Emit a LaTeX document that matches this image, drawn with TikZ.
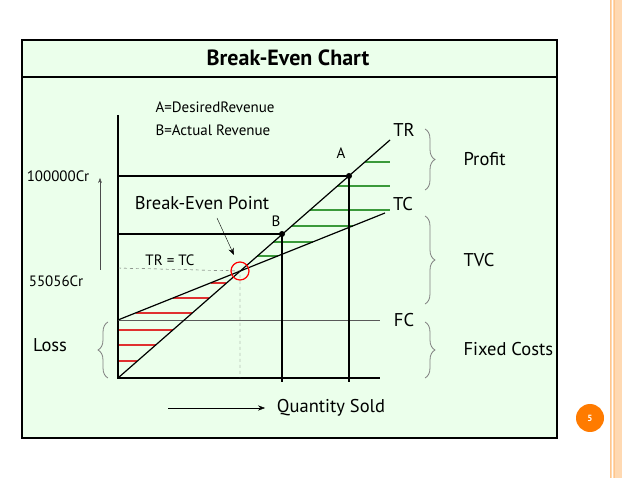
\documentclass[tikz,border=0pt]{standalone}
\usepackage{fontspec}
\setmainfont{PT Sans}
\usetikzlibrary{decorations.pathreplacing,arrows.meta}
\definecolor{hg}{HTML}{3A9A3A}
\definecolor{hr}{HTML}{E03030}
\begin{document}
\begin{tikzpicture}[x=1pt,y=-1pt,
  lbl/.style={font=\fontsize{18.5}{18.5}\selectfont},
  sml/.style={font=\fontsize{15}{15}\selectfont},
  hatchR/.style={draw=hr,line width=1.3pt},
  hatchG/.style={draw=hg,line width=1.3pt},
  brc/.style={draw=gray,line width=0.8pt,decorate,decoration={brace,amplitude=10pt}},
  thk/.style={line width=2.2pt}]
\useasboundingbox (0,0) rectangle (638,478);
\fill[white] (0,0) rectangle (638,478);
\fill[orange!30] (611,0) rectangle (622,478);
\draw[orange!45,line width=0.8pt] (610,0)--(610,478) (614,0)--(614,478);
\draw[white,line width=1pt] (612,0)--(612,478);
\fill[green!8] (22,40) rectangle (557,438);
\draw[line width=1.2pt] (22,40) rectangle (557,438);
\draw[line width=1.2pt] (22,77)--(557,77);
\node[font=\bfseries\fontsize{22}{22}\selectfont] (title) at (288,58) {Break-Even Chart};
% axes
\coordinate (O) at (118,378);
\coordinate (Ytop) at (118,115);
\coordinate (Xend) at (380,378);
\draw[line width=1.2pt] (Ytop)--(O)--(Xend);
\coordinate (TRe) at (390,140);
\coordinate (FCs) at (118,320);
\coordinate (TCe) at (385,213);
\coordinate (FCe) at (380,320);
\draw[thin,gray!70!black] (FCs)--(FCe);
% hatch
\foreach \y in {283,298,313}{\draw[hatchR] ({118+(320-\y)/0.4},\y)--({118+(378-\y)/0.876},\y);}
\foreach \y in {330,345,361}{\draw[hatchR] (119,\y)--({118+(378-\y)/0.876},\y);}
\foreach \y/\r in {162/390,186/390,210/390,226/353,242/313,256/278}{\draw[hatchG] ({118+(378-\y)/0.876},\y)--(\r,\y);}
\draw[line width=1.2pt] (O)--(TRe);
\draw[line width=1.2pt] (FCs)--(TCe);
% A and B
\coordinate (A) at (349,176);
\coordinate (B) at (282,234);
\draw[thk] (118,176)--(A)--(349,382);
\draw[thk] (118,234)--(B)--(282,382);
\fill (A) circle (3);
\fill (B) circle (3);
\node[sml] (la) at (341,153) {A};
\node[sml] (lb) at (276,221) {B};
% BEP
\coordinate (BEP) at (240,271);
\draw[dashed,gray!70!black] (118,268)--(BEP)--(240,378);
\draw[red,line width=1.2pt] (BEP) circle (9);
\node[sml] (trtc) at (170,260) {TR = TC};
\node[lbl] (bep) at (202,203) {Break-Even Point};
\draw[-{Stealth[length=7pt]}] (217,218)--(234,255);
% labels
\node[sml,anchor=west] (ta) at (152,107) {A=DesiredRevenue};
\node[sml,anchor=west] (tb) at (152,130) {B=Actual Revenue};
\node[lbl] (TR) at (404,130) {TR};
\node[lbl] (TC) at (403,204) {TC};
\node[lbl] (FC) at (404,320) {FC};
\draw[brc] (425,129)--(425,190);
\draw[brc] (425,216)--(425,304);
\draw[brc] (425,322)--(425,378);
\draw[brc] (108,378)--(108,322);
\node[lbl,anchor=west] (pr) at (460,159) {Profit};
\node[lbl,anchor=west] (tvc) at (460,260) {TVC};
\node[lbl,anchor=west] (fx) at (460,349) {Fixed Costs};
\node[lbl] (loss) at (50,345) {Loss};
\node[sml] (y1) at (58,176) {100000Cr};
\node[sml] (y2) at (56,281) {55056Cr};
\draw[-{Stealth[length=5pt]},gray!60!black] (100,270)--(100,178);
\draw[-{Stealth[length=7pt]}] (168,408)--(265,408);
\node[lbl] (qs) at (331,408) {Quantity Sold};
\fill[orange!85!red!90!yellow] (590,418) circle (14);
\node[font=\bfseries\small,white] (pg) at (590,418) {5};
\end{tikzpicture}
\end{document}
